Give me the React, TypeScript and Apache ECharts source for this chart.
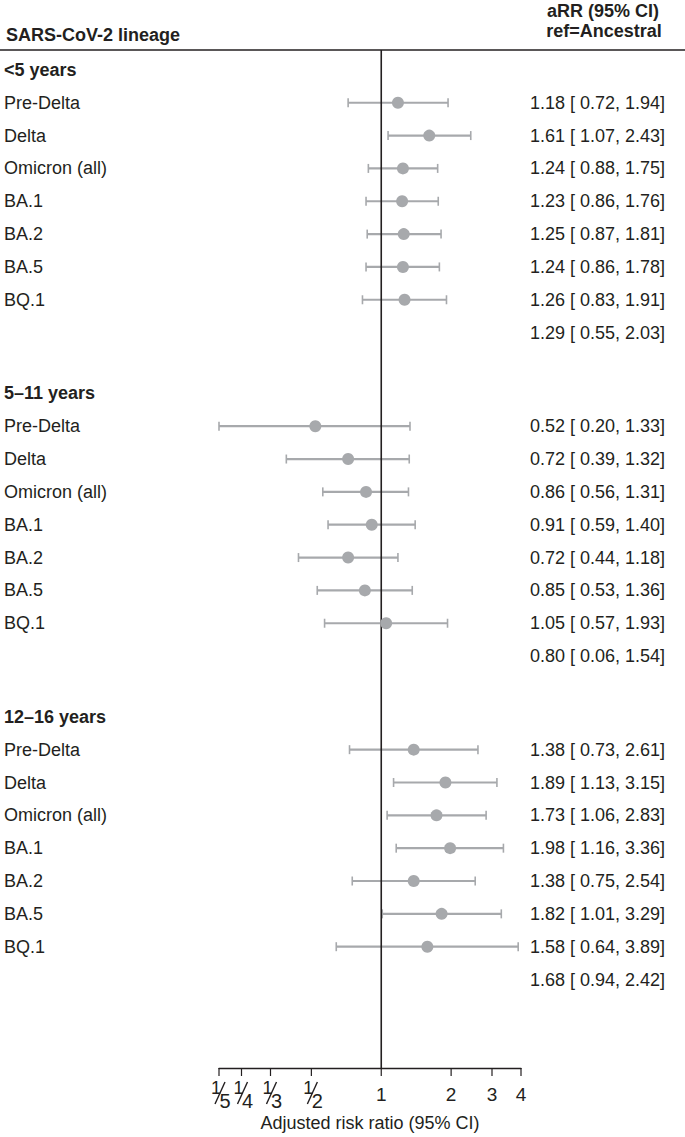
import React, { useEffect, useRef } from "react";
import * as echarts from "echarts";

const groups = ["<5 years", "5–11 years", "12–16 years"];
const lineages = ["Pre-Delta", "Delta", "Omicron (all)", "BA.1", "BA.2", "BA.5", "BQ.1"];

const estU5 = [1.18, 1.61, 1.24, 1.23, 1.25, 1.24, 1.26];
const loU5 = [0.72, 1.07, 0.88, 0.86, 0.87, 0.86, 0.83];
const hiU5 = [1.94, 2.43, 1.75, 1.76, 1.81, 1.78, 1.91];

const est5to11 = [0.52, 0.72, 0.86, 0.91, 0.72, 0.85, 1.05];
const lo5to11 = [0.2, 0.39, 0.56, 0.59, 0.44, 0.53, 0.57];
const hi5to11 = [1.33, 1.32, 1.31, 1.4, 1.18, 1.36, 1.93];

const est12to16 = [1.38, 1.89, 1.73, 1.98, 1.38, 1.82, 1.58];
const lo12to16 = [0.73, 1.13, 1.06, 1.16, 0.75, 1.01, 0.64];
const hi12to16 = [2.61, 3.15, 2.83, 3.36, 2.54, 3.29, 3.89];

const pooledEst = [1.29, 0.8, 1.68];
const pooledLo = [0.55, 0.06, 0.94];
const pooledHi = [2.03, 1.54, 2.42];

const tickValues = [1 / 5, 1 / 4, 1 / 3, 1 / 2, 1, 2, 3, 4];
const tickNumerators = ["1", "1", "1", "1", "", "", "", ""];
const tickDenominators = ["5", "4", "3", "2", "", "", "", ""];
const tickIntegers = ["", "", "", "", "1", "2", "3", "4"];

const FONT = "'Liberation Sans', Arial, Helvetica, sans-serif";
const FS = 18;
const TEXT_COLOR = "#231f20";
const GRAY = "#a7a9ac";
const GROUP_STEP = 9.85;

const allEst = [estU5, est5to11, est12to16];
const allLo = [loU5, lo5to11, lo12to16];
const allHi = [hiU5, hi5to11, hi12to16];

type Row = { y: number; left: string; bold: boolean; right: string };
const fmt = (e: number, l: number, h: number) =>
  `${e.toFixed(2)} [ ${l.toFixed(2)}, ${h.toFixed(2)}]`;

const rows: Row[] = [];
const points: number[][] = [];
const bars: number[][] = [];
groups.forEach((g, gi) => {
  const base = gi * GROUP_STEP;
  rows.push({ y: base, left: g, bold: true, right: "" });
  lineages.forEach((name, k) => {
    const e = allEst[gi][k];
    const l = allLo[gi][k];
    const h = allHi[gi][k];
    const y = base + 1 + k;
    rows.push({ y, left: name, bold: false, right: fmt(e, l, h) });
    points.push([e, y]);
    bars.push([l, h, y]);
  });
  rows.push({
    y: base + 8,
    left: "",
    bold: false,
    right: fmt(pooledEst[gi], pooledLo[gi], pooledHi[gi]),
  });
});

export default function App() {
  const ref = useRef<HTMLDivElement>(null);
  useEffect(() => {
    if (!ref.current) return;
    const chart = echarts.init(ref.current, null, { renderer: "svg" });
    const headerStyle = (text: string, align: string) => ({
      text,
      fontFamily: FONT,
      fontSize: FS,
      fontWeight: "bold",
      fill: TEXT_COLOR,
      align,
      verticalAlign: "middle",
    });
    const option: any = {
      animation: false,
      backgroundColor: "#ffffff",
      grid: { left: 219, right: 164, top: 50, bottom: 64, containLabel: false },
      xAxis: {
        type: "log",
        min: 0.2,
        max: 4,
        position: "bottom",
        axisLine: { show: true, onZero: false, lineStyle: { color: "#231f20", width: 1.3 } },
        axisTick: { show: false },
        axisLabel: { show: false },
        splitLine: { show: false },
        name: "Adjusted risk ratio (95% CI)",
        nameLocation: "middle",
        nameGap: 46,
        nameTextStyle: { fontFamily: FONT, fontSize: FS, color: TEXT_COLOR },
      },
      yAxis: {
        type: "value",
        inverse: true,
        min: -0.606,
        max: 30.394,
        show: false,
      },
      graphic: [
        {
          type: "line",
          shape: { x1: 0, y1: 50, x2: 685, y2: 50 },
          style: { stroke: "#231f20", lineWidth: 1.5 },
        },
        { type: "text", x: 6, y: 35, style: headerStyle("SARS-CoV-2 lineage", "left") },
        { type: "text", x: 603, y: 11, style: headerStyle("aRR (95% CI)", "center") },
        { type: "text", x: 604, y: 31, style: headerStyle("ref=Ancestral", "center") },
      ],
      series: [
        {
          name: "labels",
          type: "custom",
          clip: false,
          silent: true,
          z: 1,
          data: rows.map((r) => [1, r.y]),
          encode: { x: 0, y: 1 },
          renderItem: (params: any, api: any) => {
            const r = rows[params.dataIndex];
            const y = api.coord([1, api.value(1)])[1];
            const children: any[] = [];
            if (r.left) {
              children.push({
                type: "text",
                x: 4,
                y,
                style: {
                  text: r.left,
                  fontFamily: FONT,
                  fontSize: FS,
                  fontWeight: r.bold ? "bold" : "normal",
                  fill: TEXT_COLOR,
                  align: "left",
                  verticalAlign: "middle",
                },
              });
            }
            if (r.right) {
              children.push({
                type: "text",
                x: 665,
                y,
                style: {
                  text: r.right,
                  fontFamily: FONT,
                  fontSize: FS,
                  fill: TEXT_COLOR,
                  align: "right",
                  verticalAlign: "middle",
                },
              });
            }
            return { type: "group", children };
          },
        },
        {
          name: "errorbars",
          type: "custom",
          clip: false,
          silent: true,
          z: 2,
          data: bars,
          encode: { x: [0, 1], y: 2 },
          renderItem: (params: any, api: any) => {
            const y = api.value(2);
            const a = api.coord([api.value(0), y]);
            const b = api.coord([api.value(1), y]);
            const style = { stroke: GRAY, lineWidth: 2.2 };
            const cap = { stroke: GRAY, lineWidth: 1.6 };
            return {
              type: "group",
              children: [
                { type: "line", shape: { x1: a[0], y1: a[1], x2: b[0], y2: b[1] }, style },
                { type: "line", shape: { x1: a[0], y1: a[1] - 4.5, x2: a[0], y2: a[1] + 4.5 }, style: cap },
                { type: "line", shape: { x1: b[0], y1: b[1] - 4.5, x2: b[0], y2: b[1] + 4.5 }, style: cap },
              ],
            };
          },
        },
        {
          name: "axis",
          type: "custom",
          clip: false,
          silent: true,
          z: 3,
          data: tickValues.map((v) => [v, 0]),
          encode: { x: 0, y: 1 },
          renderItem: (params: any, api: any) => {
            const i = params.dataIndex;
            const cs = params.coordSys;
            const bottom = cs.y + cs.height;
            const x = api.coord([api.value(0), 0])[0];
            const children: any[] = [
              {
                type: "line",
                shape: { x1: x, y1: bottom, x2: x, y2: bottom + 8 },
                style: { stroke: "#231f20", lineWidth: 1.2 },
              },
            ];
            if (tickIntegers[i]) {
              children.push({
                type: "text",
                x,
                y: bottom + 26,
                style: {
                  text: tickIntegers[i],
                  fontFamily: FONT,
                  fontSize: 19,
                  fill: TEXT_COLOR,
                  align: "center",
                  verticalAlign: "middle",
                },
              });
            } else {
              children.push(
                {
                  type: "text",
                  x: x - 3,
                  y: bottom + 20,
                  style: {
                    text: tickNumerators[i],
                    fontFamily: FONT,
                    fontSize: 18,
                    fill: TEXT_COLOR,
                    align: "center",
                    verticalAlign: "middle",
                  },
                },
                {
                  type: "line",
                  shape: { x1: x - 4, y1: bottom + 36, x2: x + 6, y2: bottom + 14 },
                  style: { stroke: TEXT_COLOR, lineWidth: 1.4 },
                },
                {
                  type: "text",
                  x: x + 6,
                  y: bottom + 33,
                  style: {
                    text: tickDenominators[i],
                    fontFamily: FONT,
                    fontSize: 20,
                    fill: TEXT_COLOR,
                    align: "center",
                    verticalAlign: "middle",
                  },
                }
              );
            }
            return { type: "group", children };
          },
        },
        {
          name: "refline",
          type: "custom",
          clip: false,
          silent: true,
          z: 4,
          data: [[1, 0]],
          encode: { x: 0, y: 1 },
          renderItem: (params: any, api: any) => {
            const cs = params.coordSys;
            const x = api.coord([api.value(0), 0])[0];
            return {
              type: "line",
              shape: { x1: x, y1: cs.y, x2: x, y2: cs.y + cs.height },
              style: { stroke: "#231f20", lineWidth: 1.6 },
            };
          },
        },
        {
          name: "aRR",
          type: "scatter",
          z: 5,
          symbol: "circle",
          symbolSize: 12,
          silent: true,
          data: points,
          itemStyle: { color: GRAY, opacity: 1 },
        },
      ],
    };
    chart.setOption(option);
    return () => chart.dispose();
  }, []);
  return (
    <div
      ref={ref}
      style={{ position: "absolute", left: 0, top: 0, width: 685, height: 1137 }}
    />
  );
}
